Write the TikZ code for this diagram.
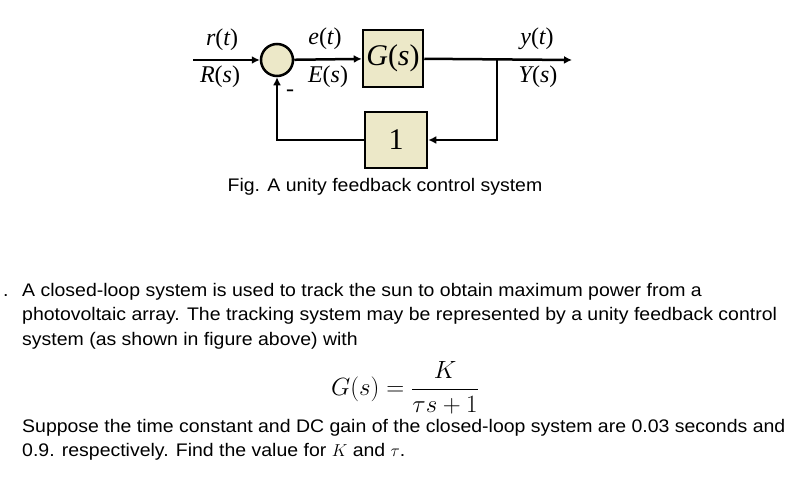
\documentclass[tikz,border=0pt]{standalone}
\usepackage{amsmath}
\usepackage{fontspec}
\setmainfont[FakeStretch=1.07]{Liberation Sans}
\newfontfamily\blockfont{Liberation Serif}
\usetikzlibrary{arrows.meta}

\definecolor{blockfill}{RGB}{236,232,200}

\tikzset{
  block/.style={draw, line width=2.5pt, fill=blockfill, inner sep=0pt,
    font=\blockfont\fontsize{30}{30}\selectfont},
  sumnode/.style={draw, circle, line width=2.5pt, fill=blockfill,
    minimum size=32pt, inner sep=0pt},
  signal/.style={line width=2.5pt, -{Latex[length=8pt,width=8pt]}},
  sig/.style={font=\blockfont\fontsize{24}{24}\selectfont, inner sep=0pt},
  txt/.style={anchor=base west, inner sep=0pt, font=\fontsize{18.2}{24}\selectfont},
}

\begin{document}
\begin{tikzpicture}[x=1pt,y=-1pt]
        \useasboundingbox (0,0) rectangle (801,479);
        % blocks
        \node[sumnode] (sum) at (277,60) {};
        \node[block, minimum width=60pt, minimum height=57pt] (G) at (393,58.5) {\itshape G\upshape(\itshape s\upshape)};
        \node[block, minimum width=62pt, minimum height=56pt] (H) at (396,140) {1};
        \coordinate (in) at (193,60);
        \coordinate (branch) at (497,60);
        \coordinate (out) at (572,60);
        % signals
        \draw[signal] (in) -- (sum);
        \draw[signal] (sum) -- (G);
        \draw[signal] (G) -- (out);
        \draw[signal] (branch) |- (H);
        \draw[signal] (H) -| (sum);
        % labels
        \node[sig] (rt) at (222,40) {\itshape r\upshape(\itshape t\upshape)};
        \node[sig] (Rs) at (220,77) {\itshape R\upshape(\itshape s\upshape)};
        \node[sig] (et) at (325,39) {\itshape e\upshape(\itshape t\upshape)};
        \node[sig] (Es) at (328,77) {\itshape E\upshape(\itshape s\upshape)};
        \node[sig] (yt) at (537,39) {\itshape y\upshape(\itshape t\upshape)};
        \node[sig] (Ys) at (538,77) {\itshape Y\upshape(\itshape s\upshape)};
        \node[sig] (minus) at (290,93) {-};
        \node[font=\fontsize{18.2}{20}\selectfont, inner sep=0pt] (cap) at (385,187) {Fig. A unity feedback control system};
        % question text
        \node[txt] (dot) at (3,296) {.};
        \node[txt] (line1) at (22,296) {A closed-loop system is used to track the sun to obtain maximum power from a};
        \node[txt] (line2) at (22,320.5) {photovoltaic array. The tracking system may be represented by a unity feedback control};
        \node[txt] (line3) at (22,345) {system (as shown in figure above) with};
        \node[anchor=center, inner sep=0pt, font=\fontsize{26}{30}\selectfont] (eq) at (405,388) {$G(s)=\dfrac{K}{\tau s+1}$};
        \node[txt] (line4) at (22,432) {Suppose the time constant and DC gain of the closed-loop system are 0.03 seconds and};
        \node[txt] (line5) at (22,456.5) {0.9. respectively. Find the value for $K$ and $\tau$.};
    \end{tikzpicture}
\end{document}
